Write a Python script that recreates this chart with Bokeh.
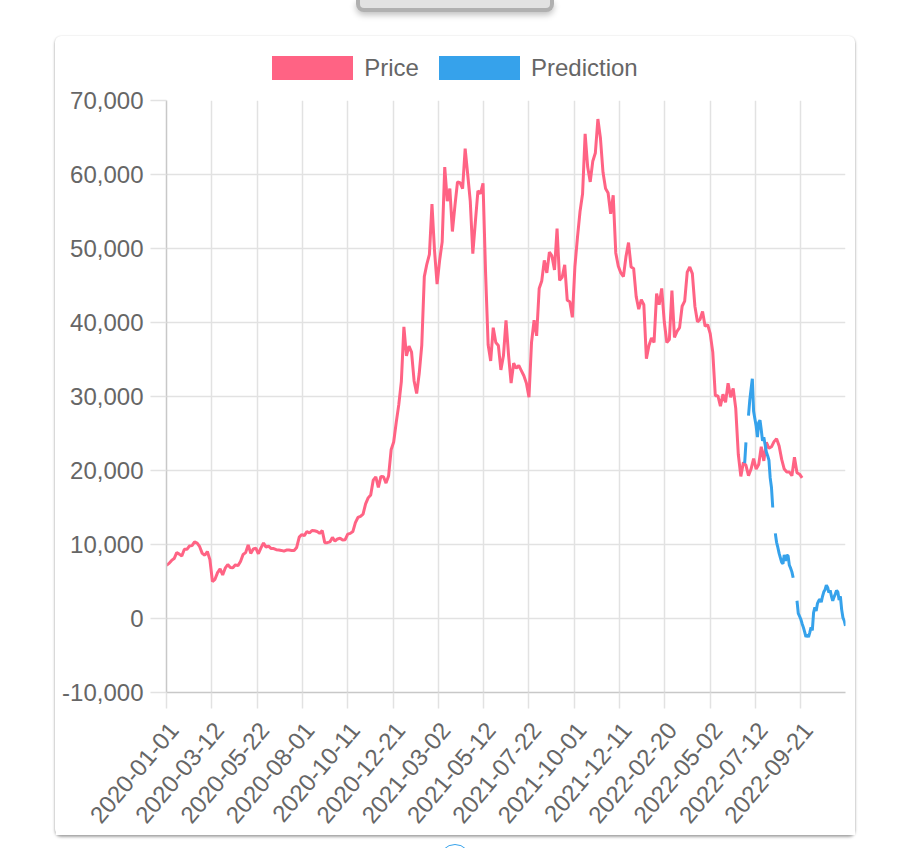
import math
from datetime import date

from bokeh.embed import file_html
from bokeh.layouts import column
from bokeh.models import (ColumnDataSource, Div, FixedTicker, LinearAxis,
                          NumeralTickFormatter, Range1d)
from bokeh.plotting import figure
from bokeh.resources import INLINE

# daily labels run from FIRST_DAY to LAST_DAY, one category per day
FIRST_DAY = "2020-01-01"
LAST_DAY = "2022-11-30"

TICK_LABELS = ["2020-01-01", "2020-03-12", "2020-05-22", "2020-08-01", "2020-10-11",
               "2020-12-21", "2021-03-02", "2021-05-12", "2021-07-22", "2021-10-01",
               "2021-12-11", "2022-02-20", "2022-05-02", "2022-07-12", "2022-09-21"]
Y_TICKS = [-10000, 0, 10000, 20000, 30000, 40000, 50000, 60000, 70000]

SERIES_NAMES = ["Price", "Prediction"]

# closing price, one value every 4 days from 2020-01-01
PRICE_START = "2020-01-01"
PRICE_STEP = 4
PRICE = [
    # 2020
    7200, 7450, 7850, 8100, 8900, 8700, 8450, 9350,
    9350, 9800, 9850, 10350, 10200, 9700, 8800,
    8550, 9050, 7950, 5000, 5300, 6200, 6700, 5900,
    6800, 7300, 6900, 6850, 7250, 7150, 7700, 8650,
    8900, 9950, 8800, 9400, 9500, 8750, 9550,
    10200, 9650, 9780, 9450, 9450, 9300, 9250, 9200,
    9100, 9250, 9250, 9200, 9200, 9600, 11000, 11350,
    11200, 11750, 11550, 11900, 11850, 11750, 11500,
    11900, 10250, 10250, 10350, 10950, 10450, 10750, 10850,
    10600, 10650, 11400, 11500, 11750, 12950, 13650, 13800,
    14100, 15500, 16300, 16700, 18700, 19150, 17700,
    19200, 19150, 18300, 19250, 22800, 23850, 26500, 28900,
    # 2021
    32000, 39400, 35500, 36800, 36000, 32100, 30400, 33100,
    36900, 46200, 47900, 49200, 56000, 49700, 45200,
    48400, 50900, 61000, 56400, 58100, 52300, 55800,
    59000, 58900, 58100, 63500, 60000, 56400, 49300, 53600,
    57800, 57400, 58800, 46700, 37000, 34800, 39300, 37300,
    36900, 33600, 35500, 40300, 35600, 31800, 34500,
    33800, 34200, 33500, 32800, 31800, 29900, 37300, 40300,
    38200, 44600, 45600, 48400, 46700, 49500, 49000, 47100,
    52700, 45700, 46100, 47800, 43000, 42800, 40700,
    47600, 51500, 55000, 57400, 65500, 61000, 59000, 61800,
    62900, 67500, 64900, 60300, 58100, 57500, 54700,
    57200, 49400, 47600, 46700, 46200, 48900, 50800, 47500,
    # 2022
    47300, 43500, 41800, 43100, 42400, 35100, 36900, 37900,
    37300, 43900, 42400, 44600, 40100, 37300, 37700,
    44300, 38000, 38800, 39300, 42200, 42900, 46800, 47500,
    46600, 42200, 40100, 40400, 41500, 39500, 39700,
    38500, 36000, 30100, 30100, 28700, 30300, 29200, 31800,
    29900, 31100, 28400, 22200, 19200, 21100, 20700,
    19300, 20200, 21600, 20200, 20800, 23200, 21300, 23800,
    23000, 23200, 23900, 24300, 23300, 21500, 20200, 19800,
    19800, 19300, 21800, 19700, 19500, 19000,
]

# model output, one value every 2 days, None where the model gave nothing
PRED_START = "2022-06-23"
PRED_STEP = 2
PREDICTION = [
    None, 21000, 23800, None, 27400, 29500, 31000, 32400, 28000, 27000,
    26000, 24500, 26500, 26800, 25500, 24000, 24500, 23500, 22500, 22000,
    21400, 19000, 17700, 15000, None, 11500, 10300, 9600, 8800, 8200,
    7600, 7400, 8600, 7800, 8500, 8500, 7200, 6800, 6300, 5500,
    None, None, 2400, 700, 300, -100, -700, -1200, -1800, -2500,
    -2200, -2500, -1900, -1200, -1600, 800, 1500, 1000, 2000, 2400,
    2600, 2200, 3000, 3600, 3900, 4500, 4200, 3500, 3800, 3000,
    2400, 2900, 3300, 3800, 3600, 2500, 3000, 1200, 100, -300,
    -1000,
]

PINK = "#FF6384"
BLUE = "#36A2EB"
GREY_TEXT = "#666666"
FONT = "Liberation Sans"
LABEL_SHIFT = 11  # rotated date labels sit a little right of their tick


def day_index(s):
    return (date.fromisoformat(s) - date.fromisoformat(FIRST_DAY)).days


price_src = ColumnDataSource(dict(
    x=[day_index(PRICE_START) + i * PRICE_STEP for i in range(len(PRICE))],
    y=PRICE,
))
pred_src = ColumnDataSource(dict(
    x=[day_index(PRED_START) + i * PRED_STEP for i in range(len(PREDICTION))],
    y=[float("nan") if v is None else v for v in PREDICTION],
))

tick_pos = [day_index(t) for t in TICK_LABELS]

p = figure(width=800, height=749, output_backend="svg", toolbar_location=None,
           x_range=Range1d(0, day_index(LAST_DAY)), y_range=Range1d(Y_TICKS[0], Y_TICKS[-1]),
           min_border_left=111, min_border_right=10, min_border_top=14, min_border_bottom=143,
           outline_line_color=None, background_fill_color="white", border_fill_color="white",
           margin=0)

# bottom axis keeps only the line and the tick marks (as minor ticks, so no labels)
p.xaxis.ticker = FixedTicker(ticks=[], minor_ticks=tick_pos)
p.xaxis.minor_tick_in = 0
p.xaxis.minor_tick_out = 16
p.xaxis.minor_tick_line_color = "#e2e2e2"
p.xaxis.minor_tick_line_width = 1.5
p.xaxis.major_label_standoff = 0
p.xgrid.ticker = FixedTicker(ticks=tick_pos)

p.yaxis.ticker = FixedTicker(ticks=Y_TICKS)
p.ygrid.ticker = FixedTicker(ticks=Y_TICKS)
p.yaxis.formatter = NumeralTickFormatter(format="0,0")
p.yaxis.major_tick_line_color = "#e2e2e2"
p.yaxis.major_tick_line_width = 1.5
p.yaxis.major_tick_in = 0
p.yaxis.major_tick_out = 16
p.yaxis.minor_tick_line_color = None
p.yaxis.major_label_text_color = GREY_TEXT
p.yaxis.major_label_text_font = FONT
p.yaxis.major_label_text_font_size = "24px"
p.yaxis.major_label_standoff = 7

for ax in (p.xaxis[0], p.yaxis[0]):
    ax.axis_line_color = "#c8c8c8"
    ax.axis_line_width = 1.5

# date labels on their own axis so they can sit slightly right of the ticks
label_pos = [t + LABEL_SHIFT for t in tick_pos]
date_axis = LinearAxis(ticker=FixedTicker(ticks=label_pos),
                       major_label_overrides={pos: lab for pos, lab in zip(label_pos, TICK_LABELS)},
                       major_label_orientation=math.radians(50),
                       axis_line_color=None, major_tick_line_color=None,
                       major_tick_in=0, major_tick_out=0, minor_tick_line_color=None,
                       major_label_standoff=17, major_label_text_color=GREY_TEXT,
                       major_label_text_font=FONT, major_label_text_font_size="24px")
p.add_layout(date_axis, "below")

for g in (p.xgrid[0], p.ygrid[0]):
    g.grid_line_color = "#e2e2e2"
    g.grid_line_width = 1.5

p.line("x", "y", source=price_src, line_color=PINK, line_width=3)
p.line("x", "y", source=pred_src, line_color=BLUE, line_width=3)

swatch = ('<span style="display:inline-block;width:81px;height:24px;background:{c};'
          'margin:0 11px 0 {m}px;vertical-align:middle"></span>'
          '<span style="vertical-align:middle">{t}</span>')
legend_html = ('<div style="width:800px;height:50px;box-sizing:border-box;padding-top:20px;'
               'display:flex;align-items:flex-start;justify-content:center;'
               'font-family:\'Liberation Sans\';font-size:24px;color:#666666;line-height:24px">'
               + swatch.format(c=PINK, m=0, t=SERIES_NAMES[0])
               + swatch.format(c=BLUE, m=20, t=SERIES_NAMES[1])
               + '</div>')
legend_div = Div(text=legend_html, width=800, height=50, margin=0)

card = column(legend_div, p, margin=(24, 0, 0, 55),
              styles={"background-color": "white", "border-radius": "6px",
                      "box-shadow": "0 2px 3px rgba(0,0,0,0.35), 0 0 2px rgba(0,0,0,0.12)"})

button = Div(width=198, height=12, margin=(0, 0, 0, 356),
             styles={"background-color": "#e2e2e2", "border": "4px solid #b0b0b0",
                     "border-top": "0", "border-radius": "0 0 8px 8px",
                     "box-shadow": "0 3px 6px rgba(0,0,0,0.25)", "box-sizing": "border-box"})

ring = Div(width=34, height=4, margin=(9, 0, 0, 439), styles={"overflow": "hidden"},
           text='<div style="width:32px;height:32px;border:1.5px solid #36A2EB;'
                'border-radius:50%"></div>')

layout = column(button, card, ring)
open("out.html", "w").write(file_html(layout, INLINE))
